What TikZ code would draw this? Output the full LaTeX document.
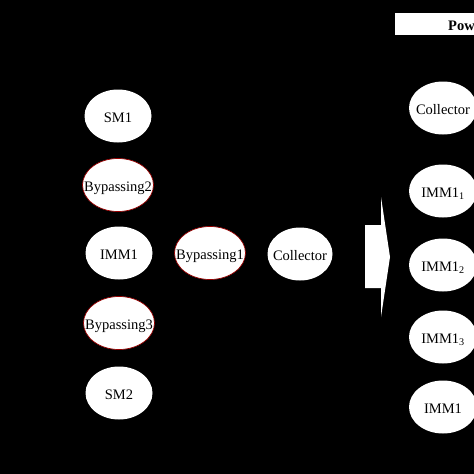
\documentclass[tikz,border=0pt]{standalone}
\usepackage{fontspec}
\setmainfont{Liberation Serif}
\usetikzlibrary{shapes.geometric}

\tikzset{
  unit/.style={ellipse,fill=white,minimum width=67pt,minimum height=53pt,inner sep=0pt,
    text height=13pt,text depth=0pt,font=\fontsize{14.5}{16}\selectfont},
  bypass/.style={unit,draw=red!60!black,line width=0.7pt,minimum width=71pt},
}
\newcommand{\tx}[1]{\makebox[0pt]{#1}}

\begin{document}
\begin{tikzpicture}[x=1pt,y=-1pt]
  \fill[black] (0,0) rectangle (474,474);
  \useasboundingbox (0,0) rectangle (474,474);

  % power box (cut at the right edge)
  \fill[white] (395,13) rectangle (474,35);
  \node[anchor=base west,inner sep=0pt,font=\fontsize{14.5}{16}\selectfont\bfseries] (pow) at (448,30) {Pow};

  % left column
  \node[unit] (sm1) at (118,116) {\tx{SM1}};
  \node[bypass] (byp2) at (118,185) {\tx{Bypassing2}};
  \node[unit] (imm1) at (119,253) {\tx{IMM1}};
  \node[bypass] (byp3) at (119,323) {\tx{Bypassing3}};
  \node[unit] (sm2) at (119,393) {\tx{SM2}};

  % middle
  \node[bypass] (byp1) at (210,253) {\tx{Bypassing1}};
  \node[unit,minimum width=65pt] (coll) at (300,254) {\tx{Collector}};

  % big arrow
  \fill[white] (365,225) -- (381,225) -- (381,197) -- (390,257) -- (381,317)
    -- (381,288) -- (365,288) -- cycle;

  % right column
  \node[unit,minimum width=68pt] (rcoll) at (443,108) {\tx{Collector}};
  \node[unit,minimum width=68pt] (imma) at (443,191) {\tx{IMM1\textsubscript{1}}};
  \node[unit,minimum width=68pt] (immb) at (443,265) {\tx{IMM1\textsubscript{2}}};
  \node[unit,minimum width=68pt] (immc) at (443,337) {\tx{IMM1\textsubscript{3}}};
  \node[unit,minimum width=68pt] (immd) at (443,407) {\tx{IMM1}};
\end{tikzpicture}
\end{document}
